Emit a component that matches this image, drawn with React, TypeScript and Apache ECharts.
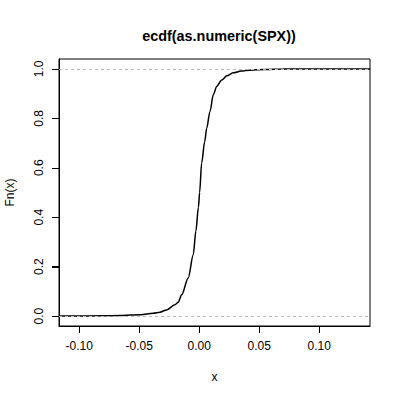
import React, { useEffect, useRef } from "react";
import * as echarts from "echarts";

const TITLE = "ecdf(as.numeric(SPX))";
const X_NAME = "x";
const Y_NAME = "Fn(x)";

const X_MIN = -0.1169;
const X_MAX = 0.1423;
const Y_MIN = -0.04;
const Y_MAX = 1.04;

const xTicks = [-0.1, -0.05, 0, 0.05, 0.1];
const yTicks = [0, 0.2, 0.4, 0.6, 0.8, 1.0];

// ECDF (horizontal ends reach the plot edges, as in R)
const xs = [
  X_MIN, -0.1073, -0.08, -0.066, -0.049, -0.0383, -0.0328, -0.0272, -0.0203,
  -0.0175, -0.0147, -0.0092, -0.005, -0.0028, -0.0007, 0.0003, 0.002, 0.0045,
  0.0062, 0.0089, 0.0117, 0.0145, 0.0187, 0.023, 0.0283, 0.035, 0.042, 0.055,
  0.07, 0.1327, X_MAX,
];
const Fs = [
  0, 0.0004, 0.001, 0.002, 0.006, 0.012, 0.016, 0.025, 0.046, 0.056, 0.086,
  0.154, 0.248, 0.345, 0.44, 0.5, 0.62, 0.705, 0.76, 0.827, 0.895, 0.929,
  0.955, 0.972, 0.984, 0.991, 0.995, 0.998, 0.9995, 1, 1,
];
const refLines = [0, 1];

const FONT = "'Liberation Sans', Arial, Helvetica, sans-serif";
const TICK_LEN = 7;

export default function App() {
  const ref = useRef<HTMLDivElement>(null);
  useEffect(() => {
    if (!ref.current) return;
    const chart = echarts.init(ref.current, undefined, { renderer: "svg" });
    const textEls: any[] = [
      {
        type: "text",
        x: 214.5,
        y: 377,
        style: { text: X_NAME, font: `12px ${FONT}`, fill: "#000", textAlign: "center", textVerticalAlign: "middle" },
      },
      {
        type: "text",
        x: 10,
        y: 192.5,
        rotation: Math.PI / 2,
        style: { text: Y_NAME, font: `12px ${FONT}`, fill: "#000", textAlign: "center", textVerticalAlign: "middle" },
      },
    ];
    chart.setOption({
      animation: false,
      title: {
        text: TITLE,
        left: 214,
        top: 24,
        textAlign: "center",
        textStyle: { fontFamily: FONT, fontSize: 14.4, fontWeight: "bold", color: "#000" },
      },
      grid: {
        left: 59,
        right: 30,
        top: 59,
        bottom: 74,
        show: true,
        borderColor: "#000",
        borderWidth: 1,
      },
      xAxis: {
        type: "value",
        min: X_MIN,
        max: X_MAX,
        axisLine: { show: true, onZero: false, lineStyle: { color: "#000" } },
        splitLine: { show: false },
        axisTick: { show: true, length: TICK_LEN, lineStyle: { color: "#000" }, customValues: xTicks },
        axisLabel: {
          customValues: xTicks,
          margin: 14,
          fontSize: 12,
          color: "#000",
          fontFamily: FONT,
          formatter: (v: number) => v.toFixed(2),
        },
      },
      yAxis: {
        type: "value",
        min: Y_MIN,
        max: Y_MAX,
        axisLine: { show: true, onZero: false, lineStyle: { color: "#000" } },
        splitLine: { show: false },
        axisTick: { show: true, length: TICK_LEN, lineStyle: { color: "#000" }, customValues: yTicks },
        axisLabel: {
          customValues: yTicks,
          rotate: 90,
          margin: 14,
          fontSize: 12,
          color: "#000",
          fontFamily: FONT,
          formatter: (v: number) => v.toFixed(1),
        },
      },
      graphic: textEls,
      series: [
        {
          type: "line",
          data: xs.map((x, i) => [x, Fs[i]]),
          showSymbol: false,
          smooth: 0.3,
          smoothMonotone: "x",
          clip: false,
          lineStyle: { color: "#000", width: 1.5 },
          markLine: {
            silent: true,
            symbol: "none",
            label: { show: false },
            lineStyle: { color: "#bbb", type: [3, 3], width: 1 },
            data: refLines.map((v) => ({ yAxis: v })),
          },
        },
      ],
    });
    // Tick marks placed through the chart's own scales, as thin filled rects
    const tickEls: any[] = [];
    xTicks.forEach((v) => {
      const p = chart.convertToPixel({ gridIndex: 0 }, [v, Y_MIN]) as number[];
      tickEls.push({
        type: "rect",
        silent: true,
        z: 10,
        shape: { x: Math.round(p[0]), y: Math.round(p[1]), width: 1, height: TICK_LEN },
        style: { fill: "#000" },
      });
    });
    yTicks.forEach((v) => {
      const p = chart.convertToPixel({ gridIndex: 0 }, [X_MIN, v]) as number[];
      tickEls.push({
        type: "rect",
        silent: true,
        z: 10,
        shape: { x: Math.round(p[0]) - TICK_LEN, y: Math.round(p[1]), width: TICK_LEN, height: 1 },
        style: { fill: "#000" },
      });
    });
    chart.setOption({ graphic: [...textEls, ...tickEls] });
    return () => chart.dispose();
  }, []);
  return (
    <div
      ref={ref}
      style={{ position: "fixed", left: 0, top: 0, width: 400, height: 400, background: "#fff" }}
    />
  );
}
